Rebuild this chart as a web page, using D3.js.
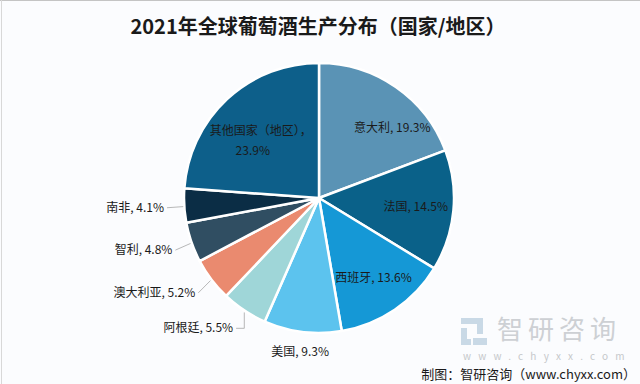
<!DOCTYPE html>
<html>
<head>
<meta charset="utf-8">
<script src="https://cdn.jsdelivr.net/npm/d3@7"></script>
<style>
  body { margin: 0; background: #fbfcfe; }
  svg { display: block; }
  text { font-family: "Noto Sans CJK SC", "Microsoft YaHei", sans-serif; }
</style>
</head>
<body>
<svg id="chart" width="640" height="384"></svg>
<script>
// 2021 wine production share by country / region
const names = ["意大利", "法国", "西班牙", "美国", "阿根廷", "澳大利亚", "智利", "南非", "其他国家（地区）"];
const shares = [19.3, 14.5, 13.6, 9.3, 5.5, 5.2, 4.8, 4.1, 23.9];
const colors = ["#5a93b5", "#0a6189", "#1598d6", "#5cc3ee", "#9fd6d8", "#ea8a6f", "#304e62", "#0b2d45", "#0d5f8a"];
const outside = [false, false, false, true, true, true, true, true, false];

const W = 640, H = 384;
const cx = 319, cy = 198, R = 135;

const svg = d3.select("#chart");

// faint frame on top / left edge
svg.append("line").attr("x1", 0).attr("x2", W).attr("y1", 0.5).attr("y2", 0.5)
    .attr("stroke", "#c4c4c4");
svg.append("line").attr("x1", 1.5).attr("x2", 1.5).attr("y1", 0).attr("y2", H)
    .attr("stroke", "#d8d8d8");

svg.append("text")
    .attr("x", 318).attr("y", 34)
    .attr("text-anchor", "middle")
    .attr("font-size", 20).attr("font-weight", "bold")
    .attr("fill", "#1a1a1a")
    .text("2021年全球葡萄酒生产分布（国家/地区）");

// watermark
const wm = svg.append("g").attr("fill", "#c9d9e6");
wm.append("rect").attr("x", 461).attr("y", 318).attr("width", 22).attr("height", 6);
wm.append("rect").attr("x", 477).attr("y", 318).attr("width", 6).attr("height", 16);
wm.append("rect").attr("x", 461).attr("y", 328).attr("width", 6).attr("height", 17);
wm.append("rect").attr("x", 461).attr("y", 339).attr("width", 10).attr("height", 6);
wm.append("rect").attr("x", 473).attr("y", 338).attr("width", 14).attr("height", 7);
svg.append("text")
    .attr("x", 497).attr("y", 339)
    .attr("font-size", 26).attr("fill", "#cdd0d4")
    .attr("letter-spacing", 5)
    .text("智研咨询");
svg.append("text")
    .attr("x", 463).attr("y", 360)
    .attr("font-size", 10).attr("fill", "#c6c8cb")
    .attr("letter-spacing", 7.2)
    .text("www.chyxx.com");

svg.append("text")
    .attr("x", 636).attr("y", 379)
    .attr("text-anchor", "end")
    .attr("font-size", 13).attr("fill", "#1a1a1a")
    .text("制图：智研咨询（www.chyxx.com）");

const data = names.map((n, i) => ({name: n, value: shares[i], color: colors[i], outside: outside[i]}));

const pie = d3.pie().sort(null).value(d => d.value);
const arcs = pie(data);

const arc = d3.arc().innerRadius(0).outerRadius(R);
const inArc = d3.arc().innerRadius(R * 0.72).outerRadius(R * 0.72);
const outArc = d3.arc().innerRadius(R * 1.15).outerRadius(R * 1.15);
const edgeArc = d3.arc().innerRadius(R).outerRadius(R);

const g = svg.append("g").attr("transform", `translate(${cx},${cy})`);

g.selectAll("path.slice")
    .data(arcs)
    .join("path")
    .attr("class", "slice")
    .attr("d", arc)
    .attr("fill", d => d.data.color)
    .attr("stroke", "#ffffff")
    .attr("stroke-width", 2.5)
    .attr("stroke-linejoin", "round");

const fmt = v => v.toFixed(1) + "%";

// small layout nudges for excel "best fit" inside labels
const nudge = {"意大利": [18, 10], "其他国家（地区）": [8, 13]};

arcs.forEach(d => {
    const lab = d.data.name + ", " + fmt(d.data.value);
    if (!d.data.outside) {
        let [x, y] = inArc.centroid(d);
        const n = nudge[d.data.name] || [0, 0];
        x += n[0]; y += n[1];
        const t = g.append("text")
            .attr("text-anchor", "middle")
            .attr("font-size", 12).attr("fill", "#1a1a1a");
        if (d.data.name.length > 4) {
            t.append("tspan").attr("x", x).attr("y", y - 5).text(d.data.name + "，");
            t.append("tspan").attr("x", x - 8).attr("y", y + 15).text(fmt(d.data.value));
        } else {
            t.attr("x", x).attr("y", y + 4).text(lab);
        }
        return;
    }
    const [ex, ey] = edgeArc.centroid(d);
    const [lx, ly] = outArc.centroid(d);
    const mid = (d.startAngle + d.endAngle) / 2;
    if (Math.sin(mid) < -0.2) {
        // left side: text ends at label point, leader from slice edge
        const pts = ey > 100 ? [[ex, ey + 2], [ex, ly + 1], [lx + 3, ly + 1]] : [[ex - 1, ey + 1], [lx + 3, ly + 1]];
        g.append("path")
            .attr("d", d3.line()(pts))
            .attr("fill", "none")
            .attr("stroke", "#a6a6a6")
            .attr("stroke-width", 0.8);
        g.append("text")
            .attr("x", lx).attr("y", ly + 5)
            .attr("text-anchor", "end")
            .attr("font-size", 12).attr("fill", "#1a1a1a")
            .text(lab);
    } else {
        g.append("text")
            .attr("x", lx).attr("y", ly + 4)
            .attr("text-anchor", "middle")
            .attr("font-size", 12).attr("fill", "#1a1a1a")
            .text(lab);
    }
});
</script>
</body>
</html>
